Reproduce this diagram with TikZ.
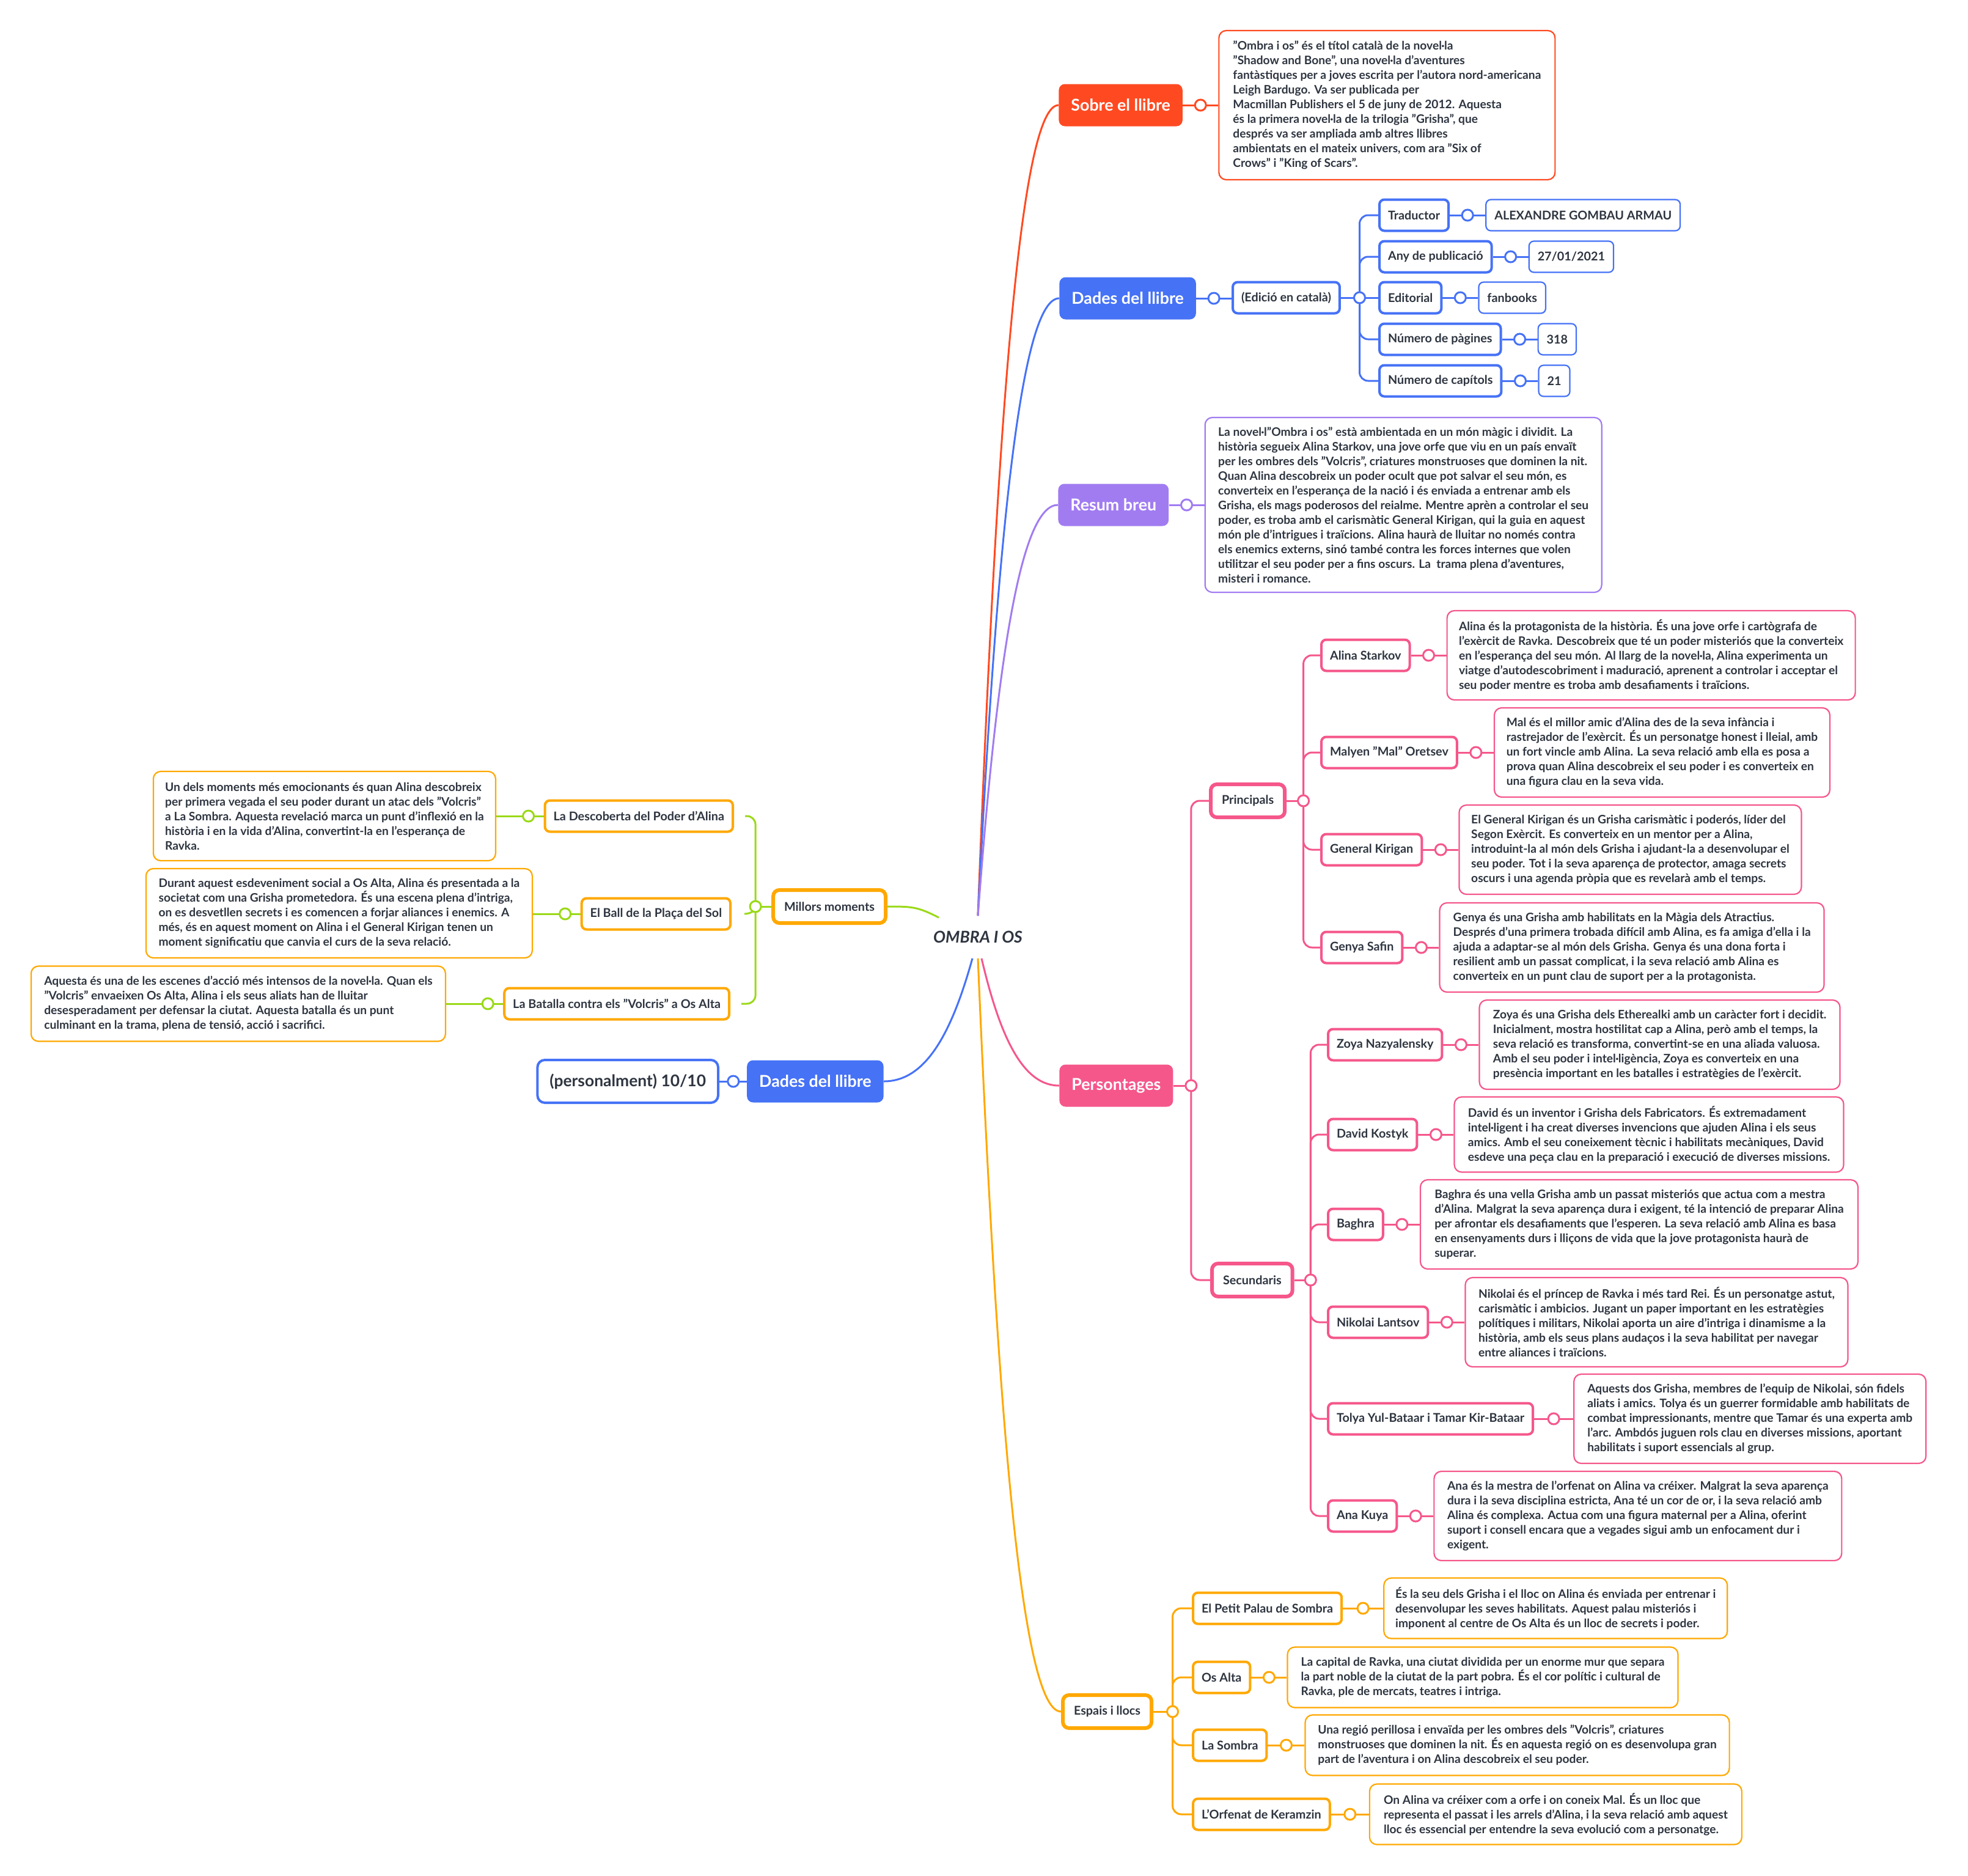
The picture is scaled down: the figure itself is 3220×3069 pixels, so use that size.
\documentclass[tikz,border=0pt]{standalone}
\usepackage{fontspec}
\setmainfont{Lato}
\usetikzlibrary{positioning,calc}
\definecolor{redc}{HTML}{FF4A21}
\definecolor{bluec}{HTML}{4672F6}
\definecolor{purc}{HTML}{A17CF1}
\definecolor{pinkc}{HTML}{F5578B}
\definecolor{orac}{HTML}{FFA800}
\definecolor{grnc}{HTML}{9AD917}
\definecolor{ink}{HTML}{2E3540}
\newcommand{\topicfont}{\fontsize{13.4}{15}\selectfont\bfseries}
\newcommand{\labelfont}{\fontsize{9.9}{12}\selectfont\bfseries}
\newcommand{\bodyfont}{\fontsize{9.6}{12}\selectfont\bfseries}
\newcommand{\rootfont}{\fontsize{13.3}{15}\selectfont\bfseries\itshape}
\newcommand{\bigfont}{\fontsize{13.2}{15}\selectfont\bfseries}
% one child, knot halfway
\newcommand{\tie}[3]{\draw[wire=#1] (#2.east) -- (#3.west |- #2.east) node[midway,knot=#1] {};}
% branch out of the root
\newcommand{\bough}[3]{\draw[wire=#1] let \p1=(#2), \p2=(#3) in (\p1) .. controls ({\x1+0.25*(\x2-\x1)},{\y1+0.65*(\y2-\y1)}) and ({\x1+0.55*(\x2-\x1)},\y2) .. (\p2);}

\begin{document}
\begin{tikzpicture}[x=0.5pt,y=-0.5pt,node distance=29pt,
  topic/.style={fill=#1,text=white,font=\topicfont,rounded corners=5pt,minimum height=34.5pt,inner xsep=10pt},
  frame/.style={draw=#1,fill=white,text=ink,line width=3pt,rounded corners=5pt,font=\labelfont,minimum height=27pt,inner xsep=9pt},
  lab/.style={draw=#1,fill=white,text=ink,line width=2pt,rounded corners=4pt,font=\labelfont,minimum height=25.5pt,inner xsep=7pt},
  val/.style={draw=#1,fill=white,text=ink,line width=1.1pt,rounded corners=4pt,font=\labelfont,minimum height=25.5pt,inner xsep=7pt},
  note/.style={draw=#1,fill=white,text=ink,line width=1.1pt,rounded corners=6pt,font=\bodyfont,align=left,inner xsep=8pt,inner ysep=5pt},
  knot/.style={circle,draw=#1,fill=white,line width=1.5pt,minimum size=9pt,inner sep=0pt},
  wire/.style={draw=#1,line width=1.5pt}]
\path[use as bounding box,fill=white] (0,0) rectangle (3220,3069);
% root
\node[font=\rootfont,text=ink,minimum height=34.5pt] (root) at (1600,1533) {OMBRA I OS};
% main topics
\node[topic=redc,anchor=west] (sob) at (1732,172) {Sobre el llibre};
\node[topic=bluec,anchor=west] (dad) at (1733,488) {Dades del llibre};
\node[topic=purc,anchor=west] (res) at (1731,826) {Resum breu};
\node[topic=pinkc,anchor=west] (per) at (1733,1776) {Persontages};
\node[frame=orac,anchor=west] (esp) at (1736,2800) {Espais i llocs};
\node[frame=orac,anchor=east] (mil) at (1452,1483) {Millors moments};
\node[topic=bluec,anchor=east] (dadl) at (1446,1769) {Dades del llibre};
\bough{redc}{root.north}{sob.west}
\bough{bluec}{root.north}{dad.west}
\bough{purc}{root.north}{res.west}
\bough{pinkc}{[xshift=3pt]root.south}{per.west}
\bough{orac}{root.south}{esp.west}
\bough{bluec}{[xshift=-4.5pt]root.south}{dadl.east}
\draw[wire=grnc] (mil.east) .. controls +(40,0) and +(-35,-18) .. ([xshift=8pt,yshift=-1.5pt]root.north west);

% Sobre el llibre
\node[note=redc,minimum width=275pt,minimum height=122pt,right=of sob] (tsob) {"Ombra i os" és el títol català de la novel·la\\"Shadow and Bone", una novel·la d'aventures\\fantàstiques per a joves escrita per l'autora nord-americana\\Leigh Bardugo. Va ser publicada per\\Macmillan Publishers el 5 de juny de 2012. Aquesta\\és la primera novel·la de la trilogia "Grisha", que\\després va ser ampliada amb altres llibres\\ambientats en el mateix univers, com ara "Six of\\Crows" i "King of Scars".};
\tie{redc}{sob}{tsob}

% Dades del llibre
\node[lab=bluec,anchor=west] (edi) at (2015,487) {(Edició en català)};
\node[lab=bluec,anchor=west] (tra) at (2255,352) {Traductor};
\node[lab=bluec,anchor=west] (any) at (2255,420) {Any de publicació};
\node[lab=bluec,anchor=west] (edt) at (2255,487) {Editorial};
\node[lab=bluec,anchor=west] (pag) at (2255,555) {Número de pàgines};
\node[lab=bluec,anchor=west] (cap) at (2255,623) {Número de capítols};
\node[val=bluec,right=of tra] (vtra) {ALEXANDRE GOMBAU ARMAU};
\node[val=bluec,right=of any] (vany) {27/01/2021};
\node[val=bluec,right=of edt] (vedt) {fanbooks};
\node[val=bluec,right=of pag] (vpag) {318};
\node[val=bluec,right=of cap] (vcap) {21};
\tie{bluec}{dad}{edi}
\coordinate (je) at ($(edi.east)!0.5!(tra.west |- edi.east)$);
\draw[wire=bluec] (edi.east) -- (edt.west);
\foreach \c in {tra,any,pag,cap} \draw[wire=bluec,rounded corners=7pt] (je) |- (\c.west);
\node[knot=bluec] at (je) {};
\foreach \c in {tra,any,edt,pag,cap} {\tie{bluec}{\c}{v\c}}

% Resum breu
\node[note=purc,minimum width=324.5pt,minimum height=143pt,right=of res] (tres) {La novel·l"Ombra i os" està ambientada en un món màgic i dividit. La\\història segueix Alina Starkov, una jove orfe que viu en un país envaït\\per les ombres dels "Volcris", criatures monstruoses que dominen la nit.\\Quan Alina descobreix un poder ocult que pot salvar el seu món, es\\converteix en l'esperança de la nació i és enviada a entrenar amb els\\Grisha, els mags poderosos del reialme. Mentre aprèn a controlar el seu\\poder, es troba amb el carismàtic General Kirigan, qui la guia en aquest\\món ple d'intrigues i traïcions. Alina haurà de lluitar no només contra\\els enemics externs, sinó també contra les forces internes que volen\\utilitzar el seu poder per a fins oscurs. La\ \ trama plena d'aventures,\\misteri i romance.};
\tie{purc}{res}{tres}

% Persontages
\node[frame=pinkc,anchor=west] (pri) at (1978,1310) {Principals};
\node[frame=pinkc,anchor=west] (sec) at (1980,2094) {Secundaris};
\coordinate (jp) at ($(per.east)!0.5!(pri.west |- per.east)$);
\draw[wire=pinkc] (per.east) -- (jp);
\foreach \c in {pri,sec} \draw[wire=pinkc,rounded corners=7pt] (jp) |- (\c.west);
\node[knot=pinkc] at (jp) {};
% principals
\node[lab=pinkc,anchor=west] (ali) at (2160,1072) {Alina Starkov};
\node[lab=pinkc,anchor=west] (mal) at (2160,1231) {Malyen "Mal" Oretsev};
\node[lab=pinkc,anchor=west] (kir) at (2160,1390) {General Kirigan};
\node[lab=pinkc,anchor=west] (gen) at (2160,1550) {Genya Safin};
\node[note=pinkc,minimum width=334pt,minimum height=73pt,right=of ali] (tali) {Alina és la protagonista de la història. És una jove orfe i cartògrafa de\\l'exèrcit de Ravka. Descobreix que té un poder misteriós que la converteix\\en l'esperança del seu món. Al llarg de la novel·la, Alina experimenta un\\viatge d'autodescobriment i maduració, aprenent a controlar i acceptar el\\seu poder mentre es troba amb desafiaments i traïcions.};
\node[note=pinkc,minimum width=274.5pt,minimum height=73pt,right=of mal] (tmal) {Mal és el millor amic d'Alina des de la seva infància i\\rastrejador de l'exèrcit. És un personatge honest i lleial, amb\\un fort vincle amb Alina. La seva relació amb ella es posa a\\prova quan Alina descobreix el seu poder i es converteix en\\una figura clau en la seva vida.};
\node[note=pinkc,minimum width=280pt,minimum height=73pt,right=of kir] (tkir) {El General Kirigan és un Grisha carismàtic i poderós, líder del\\Segon Exèrcit. Es converteix en un mentor per a Alina,\\introduint-la al món dels Grisha i ajudant-la a desenvolupar el\\seu poder. Tot i la seva aparença de protector, amaga secrets\\oscurs i una agenda pròpia que es revelarà amb el temps.};
\node[note=pinkc,minimum width=314.5pt,minimum height=73pt,right=of gen] (tgen) {Genya és una Grisha amb habilitats en la Màgia dels Atractius.\\Després d'una primera trobada difícil amb Alina, es fa amiga d'ella i la\\ajuda a adaptar-se al món dels Grisha. Genya és una dona forta i\\resilient amb un passat complicat, i la seva relació amb Alina es\\converteix en un punt clau de suport per a la protagonista.};
\coordinate (ja) at ($(pri.east)!0.5!(ali.west |- pri.east)$);
\draw[wire=pinkc] (pri.east) -- (ja);
\foreach \c in {ali,mal,kir,gen} \draw[wire=pinkc,rounded corners=7pt] (ja) |- (\c.west);
\node[knot=pinkc] at (ja) {};
\foreach \c in {ali,mal,kir,gen} {\tie{pinkc}{\c}{t\c}}
% secundaris
\node[lab=pinkc,anchor=west] (zoy) at (2171,1709) {Zoya Nazyalensky};
\node[lab=pinkc,anchor=west] (dav) at (2171,1856) {David Kostyk};
\node[lab=pinkc,anchor=west] (bag) at (2171,2003) {Baghra};
\node[lab=pinkc,anchor=west] (nik) at (2171,2163) {Nikolai Lantsov};
\node[lab=pinkc,anchor=west] (tol) at (2171,2321) {Tolya Yul-Bataar i Tamar Kir-Bataar};
\node[lab=pinkc,anchor=west] (ana) at (2171,2480) {Ana Kuya};
\node[note=pinkc,minimum width=295pt,minimum height=73pt,right=of zoy] (tzoy) {Zoya és una Grisha dels Etherealki amb un caràcter fort i decidit.\\Inicialment, mostra hostilitat cap a Alina, però amb el temps, la\\seva relació es transforma, convertint-se en una aliada valuosa.\\Amb el seu poder i intel·ligència, Zoya es converteix en una\\presència important en les batalles i estratègies de l'exèrcit.};
\node[note=pinkc,minimum width=318.5pt,minimum height=61.5pt,right=of dav] (tdav) {David és un inventor i Grisha dels Fabricators. És extremadament\\intel·ligent i ha creat diverses invencions que ajuden Alina i els seus\\amics. Amb el seu coneixement tècnic i habilitats mecàniques, David\\esdeve una peça clau en la preparació i execució de diverses missions.};
\node[note=pinkc,minimum width=358pt,minimum height=73pt,right=of bag] (tbag) {Baghra és una vella Grisha amb un passat misteriós que actua com a mestra\\d'Alina. Malgrat la seva aparença dura i exigent, té la intenció de preparar Alina\\per afrontar els desafiaments que l'esperen. La seva relació amb Alina es basa\\en ensenyaments durs i lliçons de vida que la jove protagonista haurà de\\superar.};
\node[note=pinkc,minimum width=313pt,minimum height=73pt,right=of nik] (tnik) {Nikolai és el príncep de Ravka i més tard Rei. És un personatge astut,\\carismàtic i ambicios. Jugant un paper important en les estratègies\\polítiques i militars, Nikolai aporta un aire d'intriga i dinamisme a la\\història, amb els seus plans audaços i la seva habilitat per navegar\\entre aliances i traïcions.};
\node[note=pinkc,minimum width=288pt,minimum height=73pt,right=32pt of tol] (ttol) {Aquests dos Grisha, membres de l'equip de Nikolai, són fidels\\aliats i amics. Tolya és un guerrer formidable amb habilitats de\\combat impressionants, mentre que Tamar és una experta amb\\l'arc. Ambdós juguen rols clau en diverses missions, aportant\\habilitats i suport essencials al grup.};
\node[note=pinkc,minimum width=333.5pt,minimum height=73pt,right=of ana] (tana) {Ana és la mestra de l'orfenat on Alina va créixer. Malgrat la seva aparença\\dura i la seva disciplina estricta, Ana té un cor de or, i la seva relació amb\\Alina és complexa. Actua com una figura maternal per a Alina, oferint\\suport i consell encara que a vegades sigui amb un enfocament dur i\\exigent.};
\coordinate (js) at ($(sec.east)!0.5!(zoy.west |- sec.east)$);
\draw[wire=pinkc] (sec.east) -- (js);
\foreach \c in {zoy,dav,bag,nik,tol,ana} \draw[wire=pinkc,rounded corners=7pt] (js) |- (\c.west);
\node[knot=pinkc] at (js) {};
\foreach \c in {zoy,dav,bag,nik,tol,ana} {\tie{pinkc}{\c}{t\c}}

% Espais i llocs
\node[lab=orac,anchor=west] (pal) at (1950,2631) {El Petit Palau de Sombra};
\node[lab=orac,anchor=west] (osa) at (1950,2744) {Os Alta};
\node[lab=orac,anchor=west] (som) at (1950,2855) {La Sombra};
\node[lab=orac,anchor=west] (orf) at (1950,2968) {L'Orfenat de Keramzin};
\node[note=orac,minimum width=281pt,minimum height=49.5pt,right=33pt of pal] (tpal) {És la seu dels Grisha i el lloc on Alina és enviada per entrenar i\\desenvolupar les seves habilitats. Aquest palau misteriós i\\imponent al centre de Os Alta és un lloc de secrets i poder.};
\node[note=orac,minimum width=319.5pt,minimum height=49.5pt,right=of osa] (tosa) {La capital de Ravka, una ciutat dividida per un enorme mur que separa\\la part noble de la ciutat de la part pobra. És el cor polític i cultural de\\Ravka, ple de mercats, teatres i intriga.};
\node[note=orac,minimum width=347pt,minimum height=49.5pt,right=30pt of som] (tsom) {Una regió perillosa i envaïda per les ombres dels "Volcris", criatures\\monstruoses que dominen la nit. És en aquesta regió on es desenvolupa gran\\part de l'aventura i on Alina descobreix el seu poder.};
\node[note=orac,minimum width=304.5pt,minimum height=49.5pt,right=31pt of orf] (torf) {On Alina va créixer com a orfe i on coneix Mal. És un lloc que\\representa el passat i les arrels d'Alina, i la seva relació amb aquest\\lloc és essencial per entendre la seva evolució com a personatge.};
\coordinate (jl) at ($(esp.east)!0.5!(pal.west |- esp.east)$);
\draw[wire=orac] (esp.east) -- (jl);
\foreach \c in {pal,osa,som,orf} \draw[wire=orac,rounded corners=7pt] (jl) |- (\c.west);
\node[knot=orac] at (jl) {};
\foreach \c in {pal,osa,som,orf} {\tie{orac}{\c}{t\c}}

% Millors moments (left)
\node[lab=orac,anchor=east] (dsc) at (1201,1335) {La Descoberta del Poder d'Alina};
\node[lab=orac,anchor=east] (bal) at (1197,1495) {El Ball de la Plaça del Sol};
\node[lab=orac,anchor=east] (bat) at (1195,1642) {La Batalla contra els "Volcris" a Os Alta};
\node[note=orac,minimum width=280pt,minimum height=73pt,anchor=east] (tdsc) at (812,1335) {Un dels moments més emocionants és quan Alina descobreix\\per primera vegada el seu poder durant un atac dels "Volcris"\\a La Sombra. Aquesta revelació marca un punt d'inflexió en la\\història i en la vida d'Alina, convertint-la en l'esperança de\\Ravka.};
\node[note=orac,minimum width=316pt,minimum height=73pt,anchor=east] (tbal) at (872,1494) {Durant aquest esdeveniment social a Os Alta, Alina és presentada a la\\societat com una Grisha prometedora. És una escena plena d'intriga,\\on es desvetllen secrets i es comencen a forjar aliances i enemics. A\\més, és en aquest moment on Alina i el General Kirigan tenen un\\moment significatiu que canvia el curs de la seva relació.};
\node[note=orac,minimum width=339pt,minimum height=61.5pt,anchor=east] (tbat) at (730,1642) {Aquesta és una de les escenes d'acció més intensos de la novel·la. Quan els\\"Volcris" envaeixen Os Alta, Alina i els seus aliats han de lluitar\\desesperadament per defensar la ciutat. Aquesta batalla és un punt\\culminant en la trama, plena de tensió, acció i sacrifici.};
\coordinate (jm) at ($(mil.west)+(-26,0)$);
\draw[wire=grnc] (mil.west) -- (jm);
\foreach \c in {dsc,bat} \draw[wire=grnc,rounded corners=7pt] (jm) |- ($(\c.east)+(18,0)$);
\draw[wire=grnc] (jm) .. controls +(0,8) and +(8,0) .. ($(bal.east)+(21,0)$);
\node[knot=grnc] at (jm) {};
\foreach \c in {dsc,bal,bat} {
  \draw[wire=grnc] (\c.west) -- (t\c.east |- \c.west);
  \node[knot=grnc] at ($(\c.west)+(-25,0)$) {};
}

% Dades del llibre (left)
\node[draw=bluec,fill=white,text=ink,line width=2pt,rounded corners=6pt,font=\bigfont,minimum height=35pt,inner xsep=10pt,anchor=east] (p10) at (1177,1769) {(personalment) 10/10};
\draw[wire=bluec] (dadl.west) -- (p10.east |- dadl.west);
\node[knot=bluec] at ($(dadl.west)+(-22,0)$) {};
\end{tikzpicture}
\end{document}
